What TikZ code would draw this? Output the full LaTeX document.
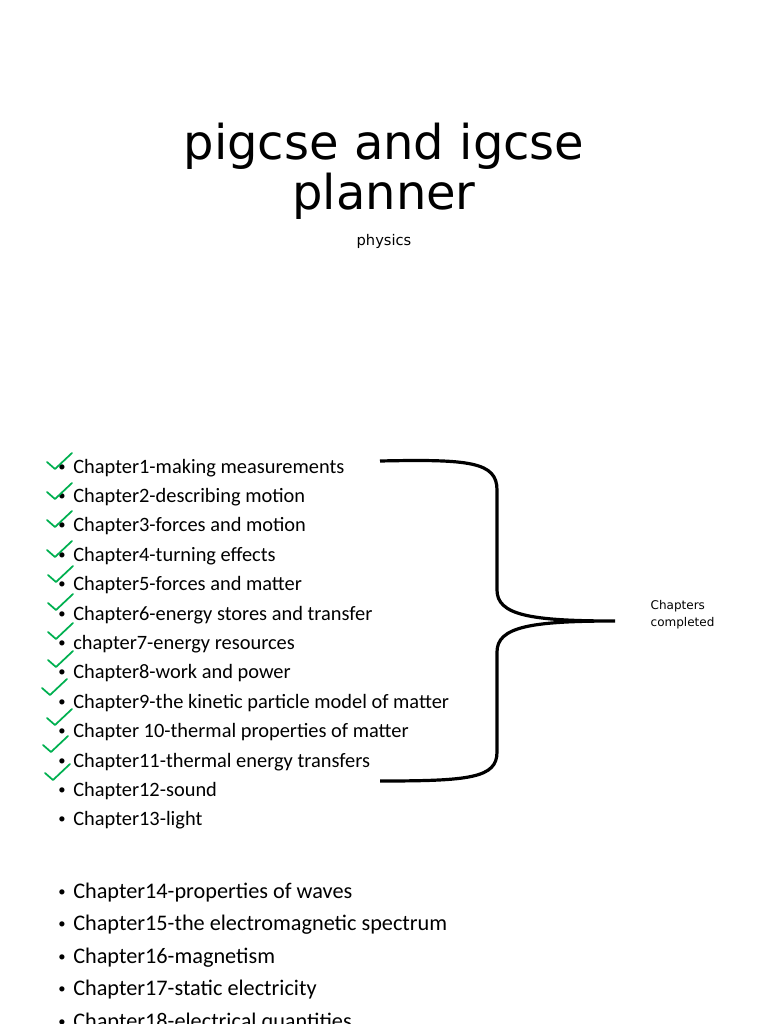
\documentclass[tikz,border=0pt]{standalone}
\usepackage{fontspec}
\setmainfont{Carlito}
\newfontfamily\djv{DejaVu Sans}
\begin{document}
\begin{tikzpicture}[x=0.75pt,y=-0.75pt,
  item/.style={anchor=base west,inner sep=0pt,font=\fontsize{15.3}{18}\selectfont},
  itemb/.style={anchor=base west,inner sep=0pt,font=\fontsize{16.7}{20}\selectfont},
  dot/.style={anchor=base,inner sep=0pt,font=\fontsize{11}{13}\selectfont},
  tick/.style={draw={rgb,255:red,0;green,176;blue,80},line width=1.3pt,line cap=round,line join=round}]
\useasboundingbox (0,0) rectangle (768,1024);
\node[anchor=base,font=\djv\fontsize{36}{37.5}\selectfont,align=center] (title) at (384,209) {pigcse and igcse\\planner};
\node[anchor=base,font=\djv\fontsize{11}{13}\selectfont] (sub) at (384,245) {physics};
\foreach \t [count=\i] in {Chapter1-making measurements,Chapter2-describing motion,Chapter3-forces and motion,Chapter4-turning effects,Chapter5-forces and matter,Chapter6-energy stores and transfer,chapter7-energy resources,Chapter8-work and power,Chapter9-the kinetic particle model of matter,Chapter 10-thermal properties of matter,Chapter11-thermal energy transfers,Chapter12-sound,Chapter13-light}{
  \node[item] (c\i) at (73,{473+29.4*(\i-1)}) {\t};
  \node[dot] (b\i) at (62,{471+29.4*(\i-1)}) {\textbullet};
}
\foreach \t [count=\i] in {Chapter14-properties of waves,Chapter15-the electromagnetic spectrum,Chapter16-magnetism,Chapter17-static electricity,Chapter18-electrical quantities}{
  \node[itemb] (d\i) at (73,{898+32.5*(\i-1)}) {\t};
  \node[dot] (e\i) at (62,{896+32.5*(\i-1)}) {\textbullet};
}
\foreach \x/\y in {47/462,47/492,47/520,47/550,48/575,48/603,48/632,48/660,42/688,47/718,43/745,45/773}{
  \draw[tick] (\x,\y) -- ++(8,7) -- ++(17,-16);
}
\coordinate (bt) at (380,461);
\coordinate (bb) at (380,781);
\coordinate (tip) at (615,621);
\draw[line width=2.4pt] (bt) .. controls (470,459) and (497,462) .. (497,490)
  -- (497,590) .. controls (497,615) and (530,621) .. (tip)
  .. controls (530,621) and (497,627) .. (497,652)
  -- (497,752) .. controls (497,778) and (470,781) .. (bb);
\node[anchor=west,align=left,font=\djv\fontsize{9}{13}\selectfont] (lbl) at (646,615) {Chapters\\completed};
\end{tikzpicture}
\end{document}
